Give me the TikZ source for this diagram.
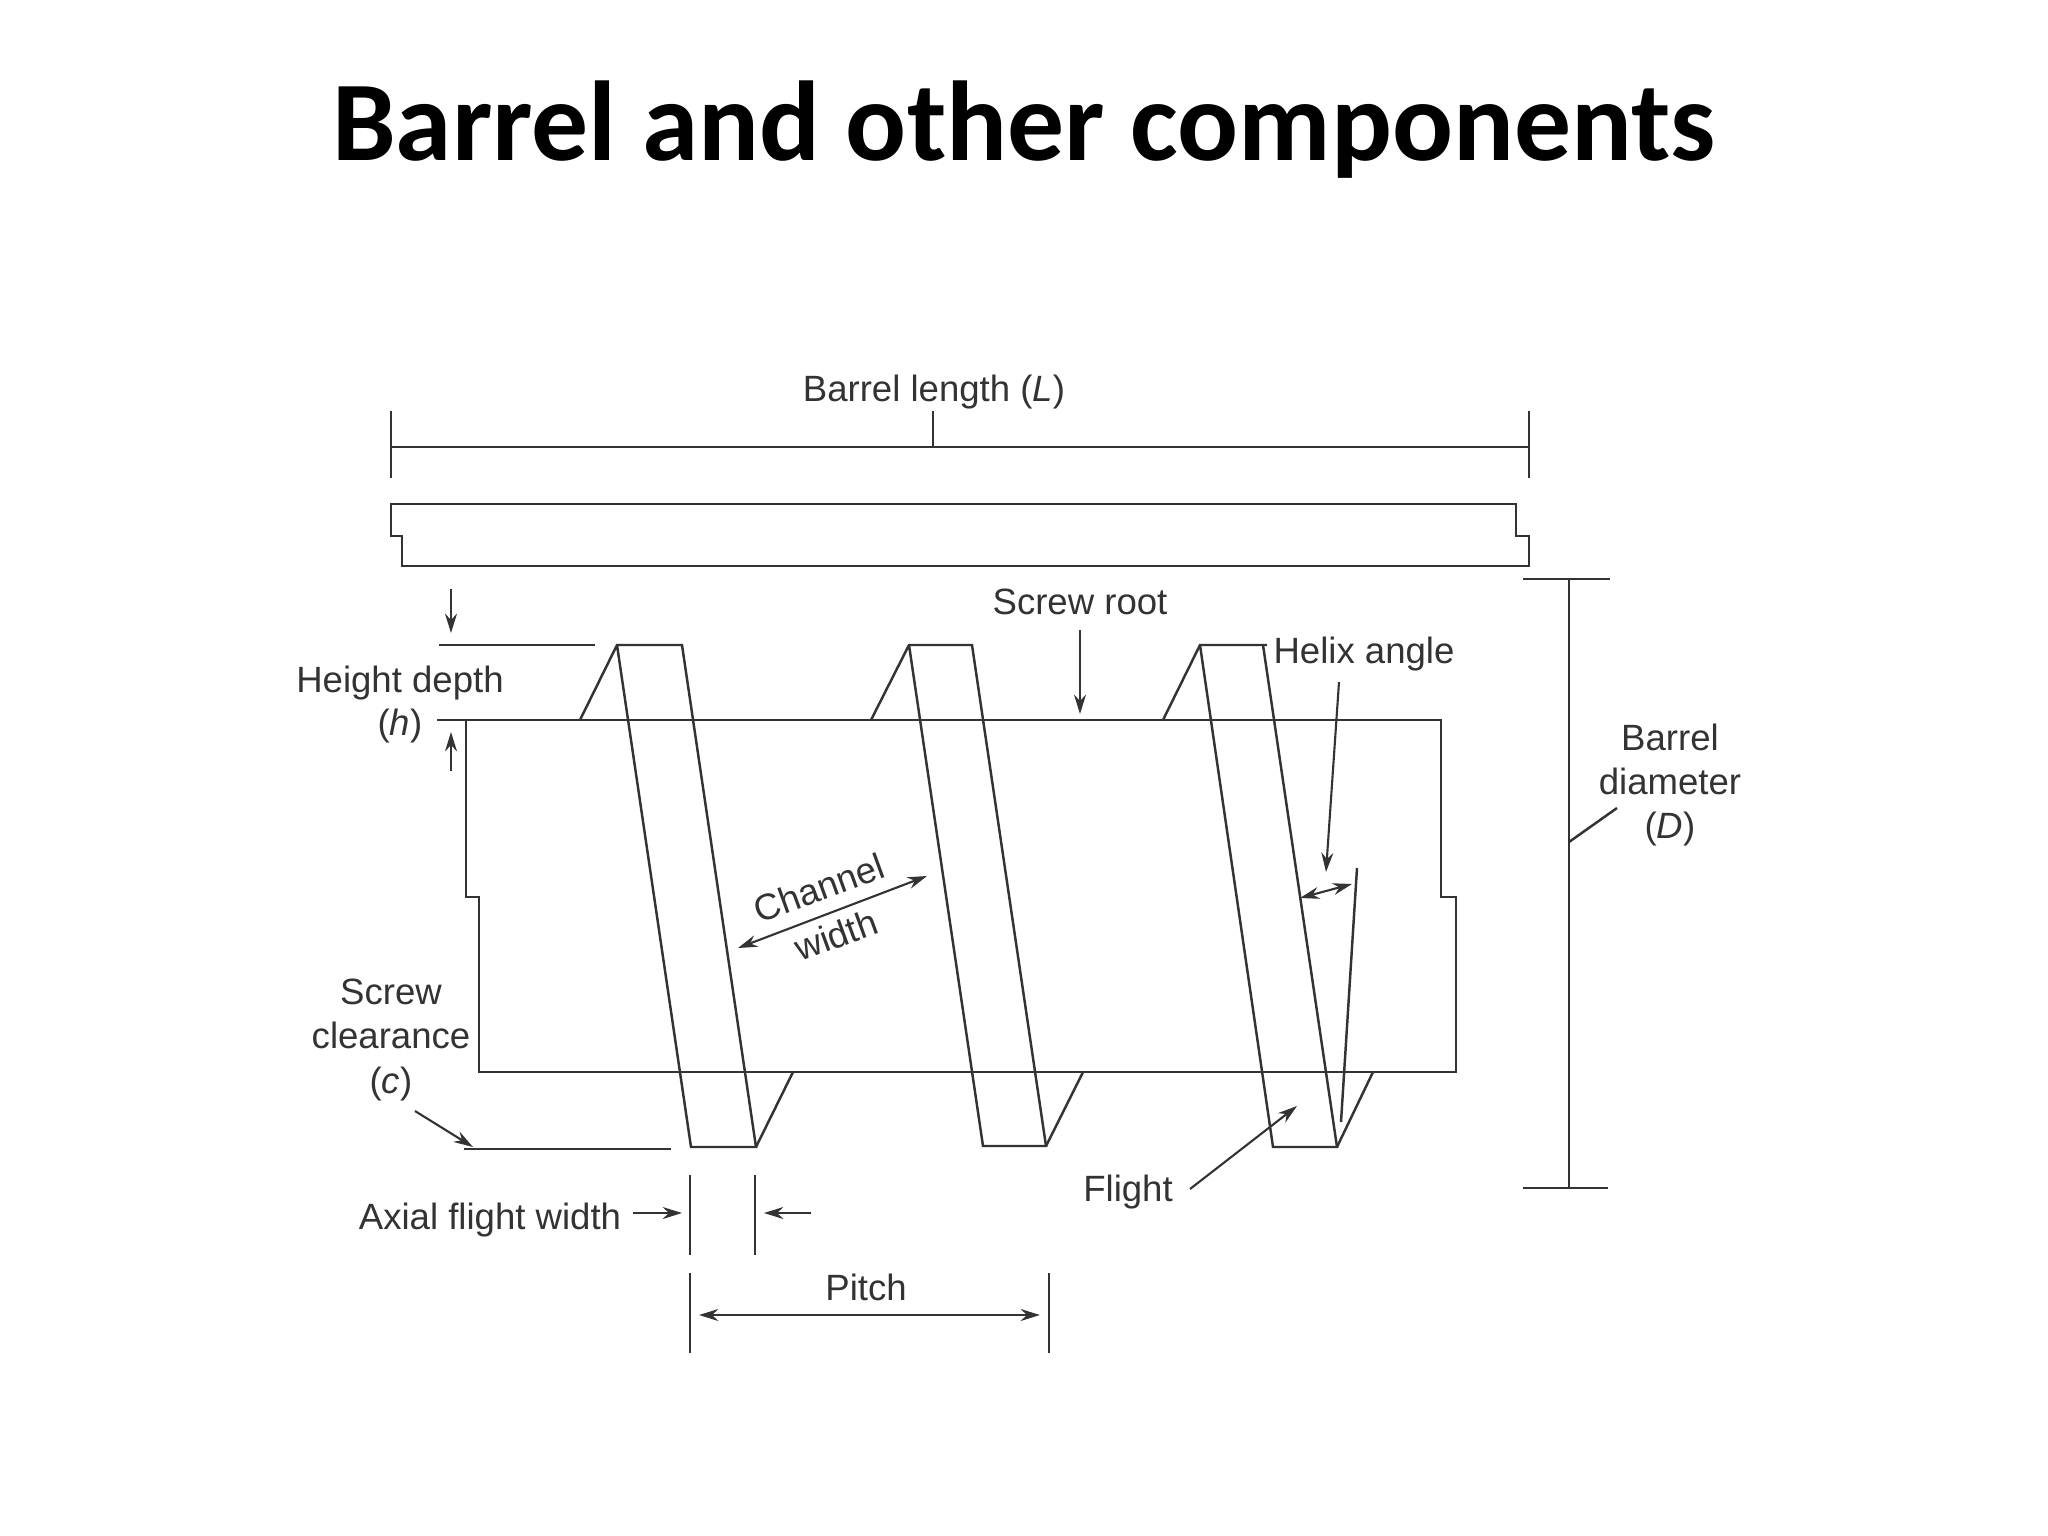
\documentclass[tikz,border=0pt]{standalone}
\usepackage{fontspec}
\usetikzlibrary{arrows.meta}
\setmainfont{Liberation Sans}
\newfontfamily\titlefont{Carlito}
\definecolor{ink}{HTML}{333333}
\tikzset{
  tip/.tip={Stealth[length=5.5pt,width=3.4pt]},
  lbl/.style={inner sep=0pt,text=ink,font=\fontsize{10.4}{12.6}\selectfont,align=center},
  part/.style={line width=0.7pt,draw=ink},
  lead/.style={line width=0.6pt,draw=ink,-tip},
  both/.style={line width=0.6pt,draw=ink,tip-tip}
}
\begin{document}
\begin{tikzpicture}[x=0.01cm,y=-0.01cm]
        \useasboundingbox (0,0) rectangle (2048,1536);

        \node[inner sep=0pt,font=\titlefont\bfseries\fontsize{32.3}{40}\selectfont] (title) at (1024,130) {Barrel and other components};

        % barrel length
        \draw[part] (391,411) to (391,478);
        \draw[part] (1529,411) to (1529,478);
        \draw[part] (391,447) to (1529,447);
        \draw[part] (933,411) to (933,447);
        \node[lbl] (length) at (934,392) {Barrel length (\textit{L})};

        % barrel
        \draw[part] (391,504) -- (1516,504) -- (1516,536) -- (1529,536) -- (1529,566) -- (402,566) -- (402,536) -- (391,536) -- cycle;

        % screw body
        \draw[part] (437,720) -- (1441,720) -- (1441,897) -- (1456,897) -- (1456,1072) -- (479,1072) -- (479,897) -- (466,897) -- (466,720);

        % flights
        \draw[part] (580,720) -- (617,645) -- (682,645) -- (756,1147) -- (691,1147) -- (617,645);
        \draw[part] (756,1147) -- (793,1072);
        \draw[part] (871,720) -- (909,645) -- (972,645) -- (1046,1146) -- (983,1146) -- (909,645);
        \draw[part] (1046,1146) -- (1083,1072);
        \draw[part] (1163,720) -- (1200,645) -- (1267,645);
        \draw[part] (1200,645) -- (1273,1147) -- (1337,1147) -- (1263,645);
        \draw[part] (1337,1147) -- (1373,1072);

        % height depth
        \draw[part] (439,645) to (595,645);
        \draw[lead] (451,589) to (451,633);
        \draw[lead] (451,771) to (451,732);
        \node[lbl] (height) at (400,683) {Height depth};
        \node[lbl] (hsym) at (400,726) {(\textit{h})};

        % screw root
        \node[lbl] (root) at (1080,602) {Screw root};
        \draw[lead] (1080,630) to (1080,714);

        % helix angle
        \node[lbl] (helix) at (1364,654) {Helix angle};
        \draw[lead] (1339,682) to (1326,872);
        \draw[part] (1357,868) to (1341,1122);
        \draw[both] (1300,898) to (1352,884);

        % barrel diameter
        \draw[part] (1523,579) to (1610,579);
        \draw[part] (1523,1188) to (1608,1188);
        \draw[part] (1569,579) to (1569,1188);
        \draw[part] (1617,808) to (1569,842);
        \node[lbl] (diameter) at (1670,785) {Barrel\\diameter\\(\textit{D})};

        % channel width
        \draw[both] (738,948) to (927,876);
        \node[lbl,rotate=20] (channel) at (819,888) {Channel};
        \node[lbl,rotate=20] (width) at (836,935) {width};

        % screw clearance
        \node[lbl] (clearance) at (391,1040) {Screw\\clearance\\(\textit{c})};
        \draw[lead] (415,1111) to (473,1147);
        \draw[part] (464,1149) to (671,1149);

        % axial flight width
        \node[lbl] (axial) at (490,1220) {Axial flight width};
        \draw[lead] (633,1213) to (682,1213);
        \draw[lead] (811,1213) to (764,1213);
        \draw[part] (690,1175) to (690,1255);
        \draw[part] (755,1175) to (755,1255);

        % pitch
        \draw[part] (690,1273) to (690,1353);
        \draw[part] (1049,1273) to (1049,1353);
        \draw[both] (699,1315) to (1040,1315);
        \node[lbl] (pitch) at (866,1287) {Pitch};

        % flight
        \node[lbl] (flight) at (1128,1192) {Flight};
        \draw[lead] (1190,1189) to (1297,1106);
\end{tikzpicture}
\end{document}
